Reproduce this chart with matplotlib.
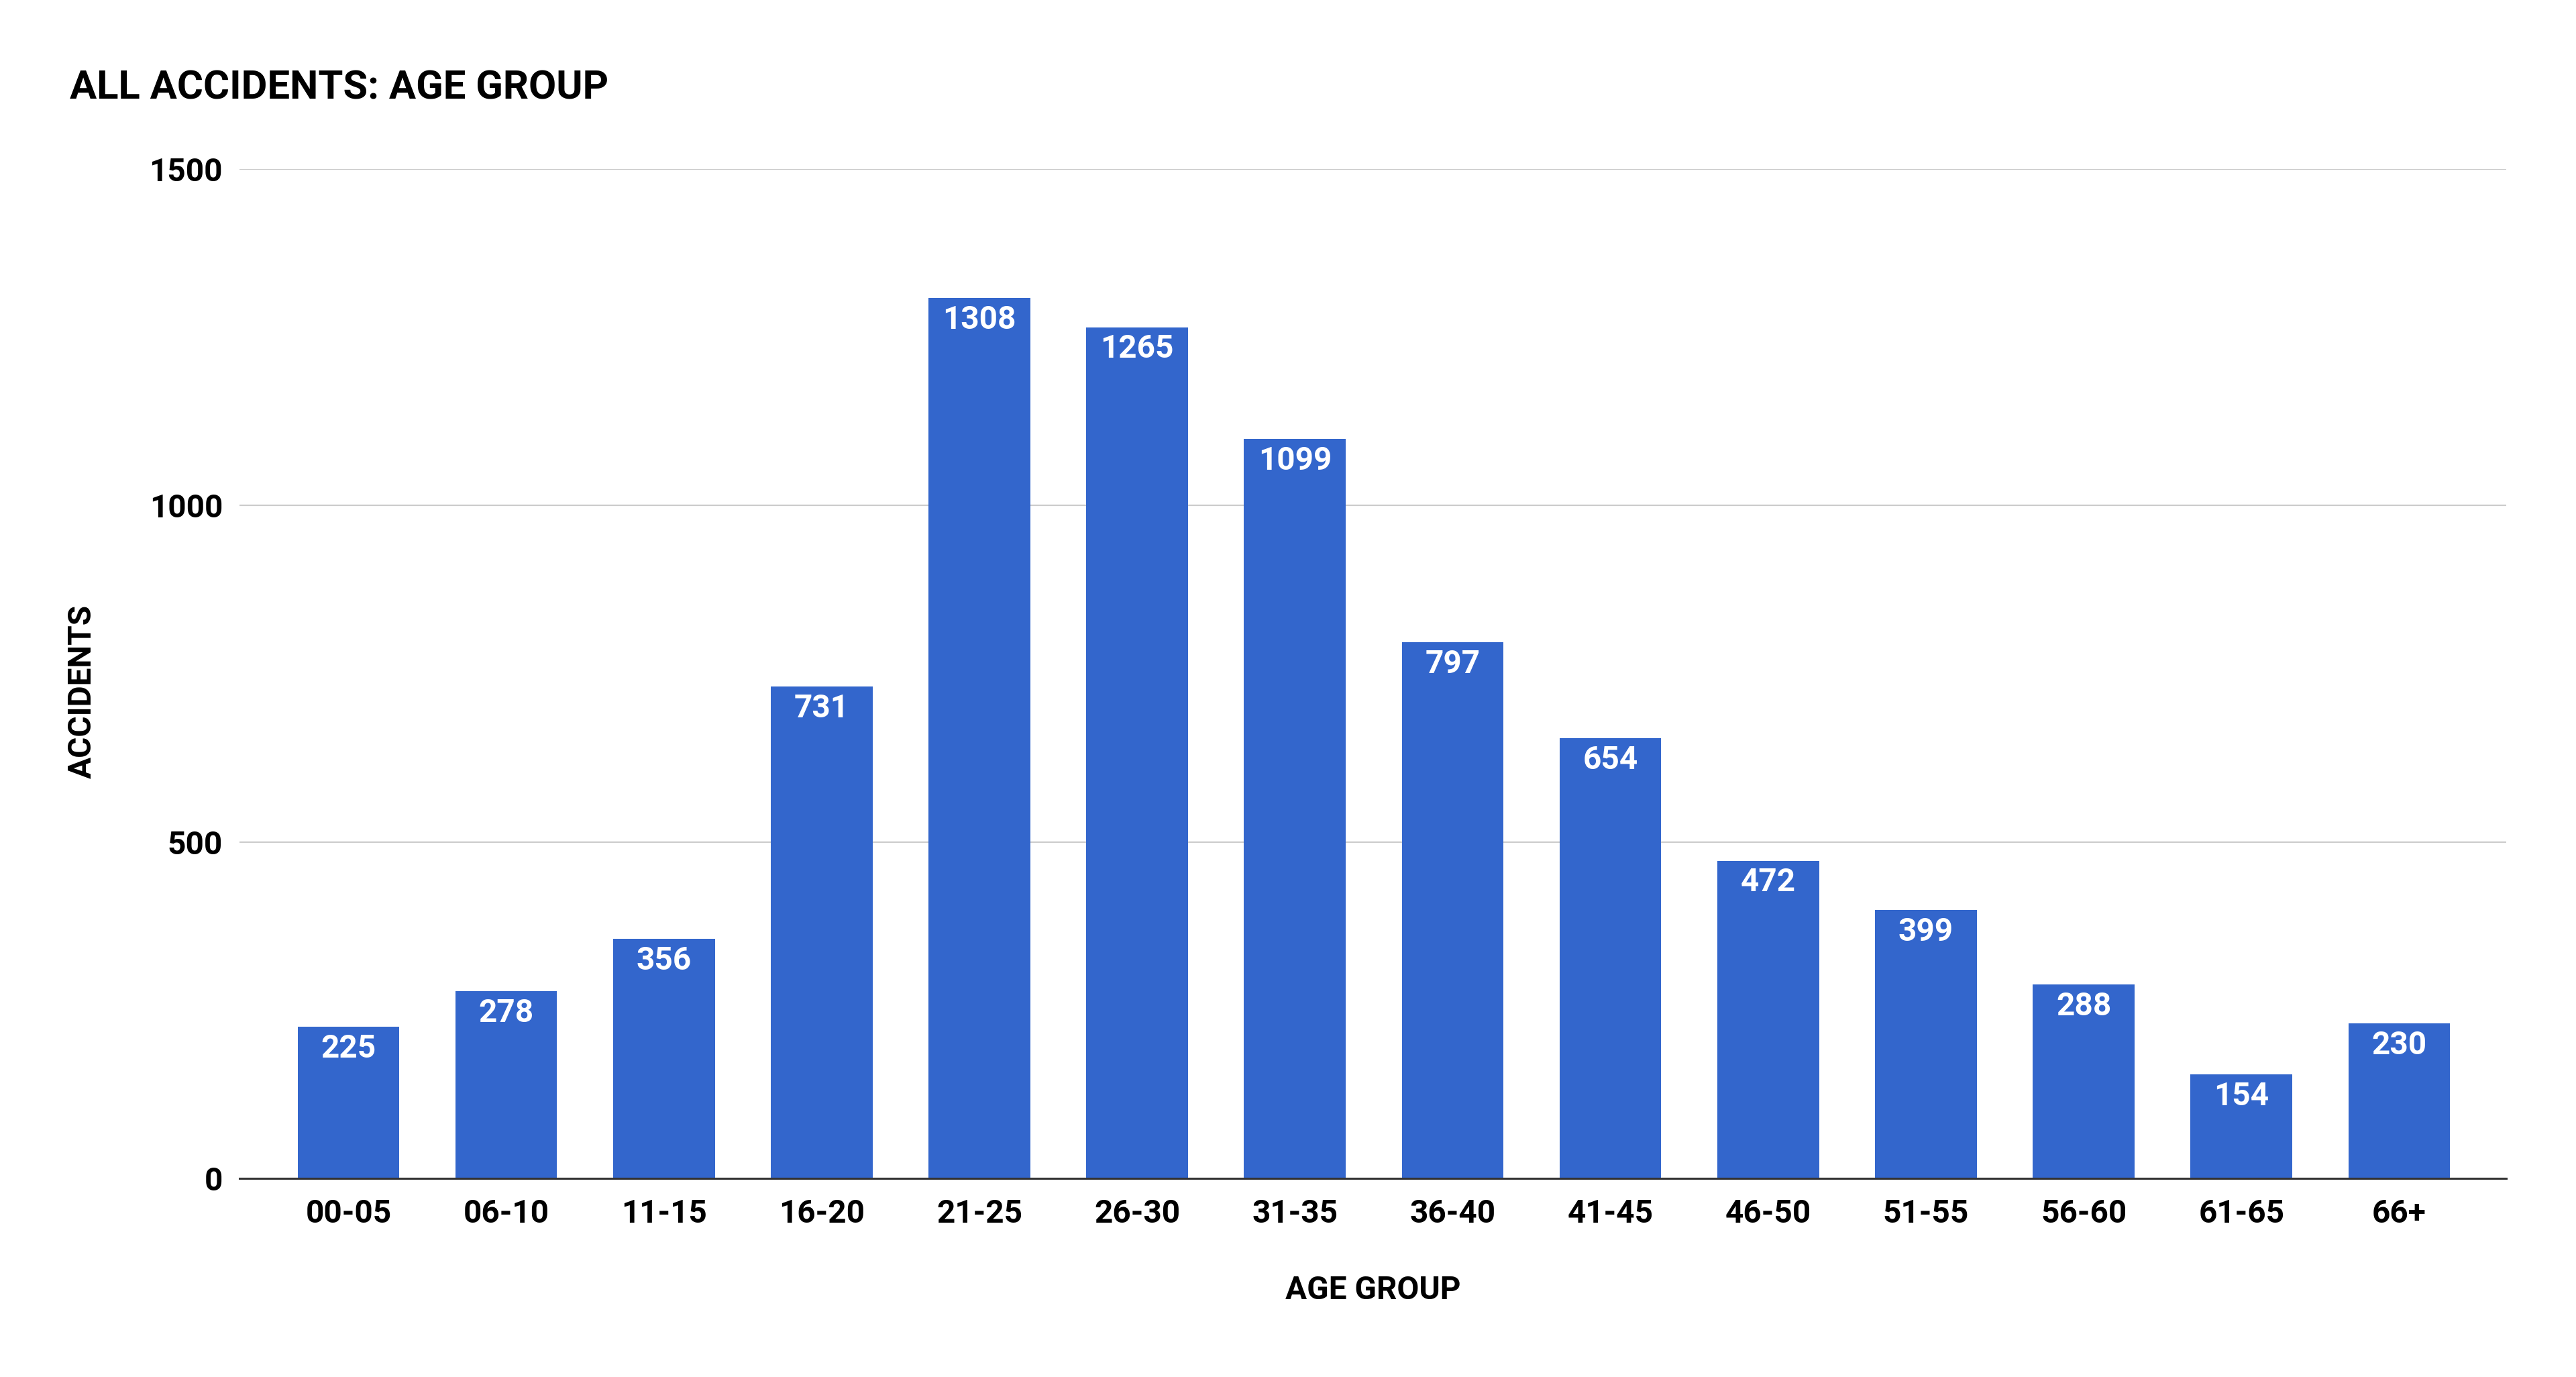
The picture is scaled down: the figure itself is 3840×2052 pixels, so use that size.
import matplotlib

matplotlib.use("Agg")
import matplotlib.pyplot as plt

age_groups = ["00-05", "06-10", "11-15", "16-20", "21-25", "26-30", "31-35",
              "36-40", "41-45", "46-50", "51-55", "56-60", "61-65", "66+"]
accidents = [225, 278, 356, 731, 1308, 1265, 1099, 797, 654, 472, 399, 288, 154, 230]
y_ticks = [0, 500, 1000, 1500]

BAR = "#3366cc"
FS = 17.2
plt.rcParams["font.family"] = ["Roboto", "DejaVu Sans"]

fig = plt.figure(figsize=(19.2, 10.26), dpi=200)
ax = fig.add_axes([0.093, 0.1443, 0.880, 0.7329])

x = range(len(age_groups))
bars = ax.bar(x, accidents, width=0.645, color=BAR, zorder=2)
for rect, v in zip(bars, accidents):
    ax.annotate(str(v), (rect.get_x() + rect.get_width() / 2, v),
                xytext=(0, -3.5), textcoords="offset points",
                ha="center", va="top", color="white",
                fontsize=FS, fontweight="bold", zorder=3)

ax.set_xlim(-0.69, 13.68)
ax.set_ylim(0, 1500)
ax.set_yticks(y_ticks)
ax.set_xticks(list(x))
ax.set_xticklabels(age_groups)
ax.tick_params(axis="both", length=0, labelsize=FS)
ax.tick_params(axis="x", pad=11)
ax.tick_params(axis="y", pad=9)
for lab in ax.get_xticklabels() + ax.get_yticklabels():
    lab.set_fontweight("bold")

ax.grid(axis="y", color="#cccccc", linewidth=0.8, zorder=0)
for side in ("top", "right", "left"):
    ax.spines[side].set_visible(False)
ax.spines["bottom"].set_color("#333333")
ax.spines["bottom"].set_linewidth(1.1)
ax.spines["bottom"].set_zorder(4)

fig.text(0.5 * (0.093 + 0.973), 0.063, "AGE GROUP", ha="center", va="center",
         fontsize=FS, fontweight="bold")
fig.text(0.032, 0.498, "ACCIDENTS", ha="center", va="center", rotation=90,
         fontsize=FS, fontweight="bold")
fig.text(0.027, 0.936, "ALL ACCIDENTS: AGE GROUP", ha="left", va="center",
         fontsize=21.5, fontweight="bold")

fig.savefig("out.png", dpi=200, facecolor="white")
